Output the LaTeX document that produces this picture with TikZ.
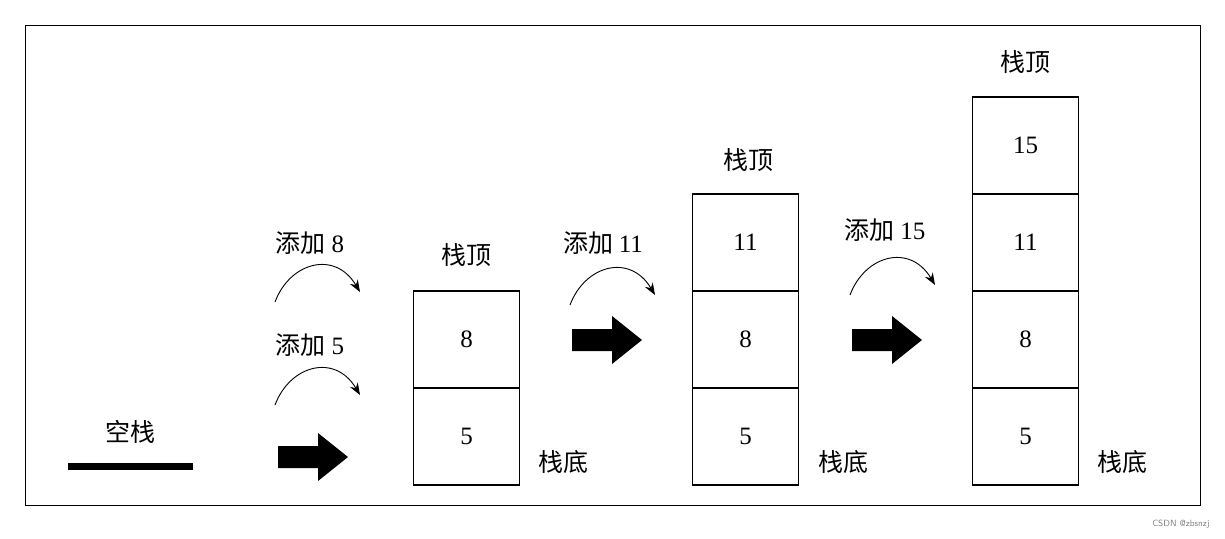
\documentclass[tikz,border=0pt]{standalone}
\usepackage{fontspec}
\usetikzlibrary{arrows.meta}
\setmainfont{Liberation Serif}
\newfontfamily\cjk{Noto Sans CJK SC}
\begin{document}
\begin{tikzpicture}[x=1pt,y=-1pt,
  cell/.style={draw,line width=1.2pt,minimum width=106pt,minimum height=97pt,inner sep=0,outer sep=0,font=\fontsize{25}{27}\selectfont},
  lab/.style={font=\fontsize{25}{27}\selectfont\cjk,inner sep=0},
  curv/.style={line width=0.9pt,-{Stealth[length=12pt,width=9pt]}}]
\useasboundingbox (0,0) rectangle (1225,538);
\node[draw,line width=1pt,minimum width=1175pt,minimum height=480pt,inner sep=0] (frame) at (612.5,265) {};
% empty stack
\draw[line width=7pt] (68,466) coordinate (e1) -- (193,466) coordinate (e2);
\node[lab] (kz) at (130,432) {空栈};
% stack 1
\node[cell] (a1) at (466.5,436.5) {5};
\node[cell,anchor=south] (a2) at (a1.north) {8};
\node[lab] (t1) at (466,255) {栈顶};
\node[lab] (b1) at (563,462) {栈底};
% stack 2
\node[cell] (c1) at (745.5,436.5) {5};
\node[cell,anchor=south] (c2) at (c1.north) {8};
\node[cell,anchor=south] (c3) at (c2.north) {11};
\node[lab] (t2) at (748,160) {栈顶};
\node[lab] (b2) at (843,462) {栈底};
% stack 3
\node[cell] (d1) at (1025.5,436.5) {5};
\node[cell,anchor=south] (d2) at (d1.north) {8};
\node[cell,anchor=south] (d3) at (d2.north) {11};
\node[cell,anchor=south] (d4) at (d3.north) {15};
\node[lab] (t3) at (1025,62) {栈顶};
\node[lab] (b3) at (1122,462) {栈底};
% add labels
\node[lab] (l8) at (310,243) {添加 \rmfamily 8};
\node[lab] (l5) at (310,345) {添加 \rmfamily 5};
\node[lab] (l11) at (603,243) {添加 \rmfamily 11};
\node[lab] (l15) at (885,230) {添加 \rmfamily 15};
% curved arrows
\draw[curv] (275,302) .. controls (290,262) and (335,250) .. (360,292);
\draw[curv] (275,405) .. controls (290,365) and (335,353) .. (360,395);
\draw[curv] (570,305) .. controls (585,265) and (630,253) .. (655,295);
\draw[curv] (850,295) .. controls (865,255) and (910,243) .. (935,285);
% block arrows
\foreach \x/\y in {278/457, 572/340, 852/340}{
  \fill (\x,\y-11) -- (\x+40,\y-11) -- (\x+40,\y-24) -- (\x+70,\y) -- (\x+40,\y+24) -- (\x+40,\y+11) -- (\x,\y+11) -- cycle;
}
\node[font=\fontsize{9}{10}\selectfont\sffamily,text=gray,anchor=east] (wm) at (1213,524) {CSDN @zbsnzj};
\end{tikzpicture}
\end{document}
